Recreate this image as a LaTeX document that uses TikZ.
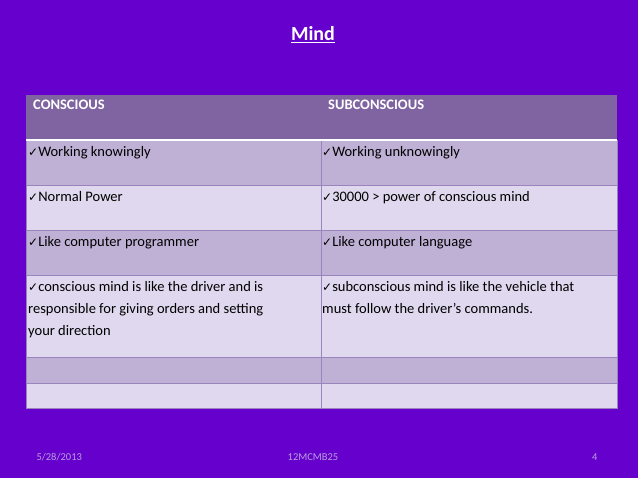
\documentclass[tikz,border=0pt]{standalone}
\usepackage{fontspec}
\setmainfont{Carlito}
\newfontfamily\djfont{DejaVu Sans}
\definecolor{bg}{HTML}{6600CC}
\definecolor{hdr}{HTML}{8064A2}
\definecolor{rdark}{HTML}{BFB1D5}
\definecolor{rlight}{HTML}{E0D8EE}
\definecolor{grid}{HTML}{9B84BE}
\definecolor{foot}{HTML}{B8A0E0}
\newcommand{\ck}{{\djfont\fontsize{12}{12}\selectfont ✓}}
\tikzset{cell/.style={anchor=north west,inner sep=0pt,align=left,font=\fontsize{14.5}{22}\selectfont},
hd/.style={anchor=north west,inner sep=0pt,text=white,font=\fontsize{14.5}{16}\selectfont\bfseries},
ft/.style={text=foot,font=\fontsize{10.5}{11}\selectfont}}
\begin{document}
\begin{tikzpicture}[x=1pt,y=-1pt]
\fill[bg] (0,0) rectangle (638,478);
\useasboundingbox (0,0) rectangle (638,478);
\node[text=white,font=\fontsize{20}{22}\selectfont\bfseries] (title) at (313,35) {\underline{Mind}};
\fill[hdr] (26,95) rectangle (617,140);
\fill[rdark] (26,140) rectangle (617,185);
\fill[rlight] (26,185) rectangle (617,230);
\fill[rdark] (26,230) rectangle (617,275);
\fill[rlight] (26,275) rectangle (617,357);
\fill[rdark] (26,357) rectangle (617,383);
\fill[rlight] (26,383) rectangle (617,408);
\draw[grid,line width=0.8pt] (26,185)--(617,185) (26,230)--(617,230) (26,275)--(617,275) (26,357)--(617,357) (26,383)--(617,383) (321,140)--(321,408) (26,140) rectangle (617,408);
\draw[white,line width=1.5pt] (26,140)--(617,140);
\node[hd] (h1) at (33,100) {CONSCIOUS};
\node[hd] (h2) at (328,100) {SUBCONSCIOUS};
\node[cell] (a1) at (28,146) {\ck Working knowingly};
\node[cell] (b1) at (322,146) {\ck Working unknowingly};
\node[cell] (a2) at (28,191) {\ck Normal Power};
\node[cell] (b2) at (322,191) {\ck 30000 > power of conscious mind};
\node[cell] (a3) at (28,236) {\ck Like computer programmer};
\node[cell] (b3) at (322,236) {\ck Like computer language};
\node[cell] (a4) at (28,281) {\ck conscious mind is like the driver and is\\ responsible for giving orders and setting\\ your direction};
\node[cell] (b4) at (322,281) {\ck subconscious mind is like the vehicle that\\ must follow the driver’s commands.};
\node[ft,anchor=west] (f1) at (33,457) {5/28/2013};
\node[ft] (f2) at (313,457) {12MCMB25};
\node[ft,anchor=east] (f3) at (601,457) {4};
\end{tikzpicture}
\end{document}
